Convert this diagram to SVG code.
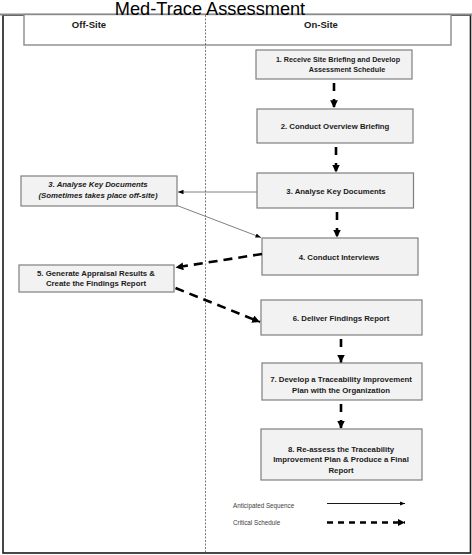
<svg xmlns="http://www.w3.org/2000/svg" width="472" height="555" viewBox="0 0 472 555">
<style>
  .box { fill: #f2f2f2; stroke: #7f7f7f; stroke-width: 1.2; }
  .t { font-family: "Liberation Sans", Arial, sans-serif; font-weight: bold; font-size: 7.8px; fill: #1a1a1a; text-anchor: middle; }
  .ti { font-style: italic; }
  .hdr { font-family: "Liberation Sans", Arial, sans-serif; font-weight: bold; font-size: 9.5px; fill: #1a1a1a; text-anchor: middle; }
  .leg { font-family: "Liberation Sans", Arial, sans-serif; font-size: 6.3px; fill: #404040; }
  .critv { fill: none; stroke: #000; stroke-width: 2.6; stroke-dasharray: 8 8; stroke-dashoffset: 12; }
  .crito { fill: none; stroke: #000; stroke-width: 2.6; stroke-dasharray: 9 6; }
  .thin { fill: none; stroke: #808080; stroke-width: 1; }
</style>
<defs>
  <marker id="ah" viewBox="0 0 10 10" refX="10" refY="5" markerWidth="3" markerHeight="3" orient="auto" markerUnits="strokeWidth">
    <path d="M0,0 L10,5 L0,10 z" fill="#000"/>
  </marker>
  <marker id="ahs" viewBox="0 0 10 10" refX="10" refY="5" markerWidth="5.5" markerHeight="5.5" orient="auto" markerUnits="strokeWidth">
    <path d="M0,1 L10,5 L0,9 z" fill="#000"/>
  </marker>
</defs>
<rect x="0" y="0" width="472" height="555" fill="#fff"/>
<g id="frame">
  <rect x="3" y="15" width="467.5" height="538" fill="none" stroke="#1a1a1a" stroke-width="1.6"/>
  <line x1="0" y1="14.5" x2="472" y2="14.5" stroke="#8a8a8a" stroke-width="2"/>
  <rect x="24" y="14.5" width="427" height="30.5" fill="#fff" stroke="#8a8a8a" stroke-width="1.4"/>
  <line x1="205.5" y1="15" x2="205.5" y2="553" stroke="#555" stroke-width="0.8" stroke-dasharray="2 1.5"/>
  <text x="210" y="14.8" font-family="'Liberation Sans', Arial, sans-serif" font-size="18.2" fill="#000" text-anchor="middle">Med-Trace Assessment</text>
  <text class="hdr" x="89" y="28">Off-Site</text>
  <text class="hdr" x="321" y="28">On-Site</text>
</g>
<g id="n1">
  <rect class="box" x="256" y="50" width="156" height="29"/>
  <text class="t" x="338" y="61.5" style="font-size:7.2px">1. Receive Site Briefing and Develop</text>
  <text class="t" x="347" y="72" style="font-size:7.2px">Assessment Schedule</text>
</g>
<g id="n2">
  <rect class="box" x="257" y="109" width="156" height="34"/>
  <text class="t" x="335" y="129">2. Conduct Overview Briefing</text>
</g>
<g id="n3">
  <rect class="box" x="257" y="173" width="156.5" height="35"/>
  <text class="t" x="336" y="194">3. Analyse Key Documents</text>
</g>
<g id="n3b">
  <rect class="box" x="21" y="176" width="156" height="30"/>
  <text class="t ti" x="98" y="187">3. Analyse Key Documents</text>
  <text class="t ti" x="98" y="197.5">(Sometimes takes place off-site)</text>
</g>
<g id="n4">
  <rect class="box" x="262" y="238" width="156" height="37"/>
  <text class="t" x="339" y="259.5">4. Conduct Interviews</text>
</g>
<g id="n5">
  <rect class="box" x="19" y="265" width="155" height="27"/>
  <text class="t" x="96" y="275.5">5. Generate Appraisal Results &amp;</text>
  <text class="t" x="96" y="286">Create the Findings Report</text>
</g>
<g id="n6">
  <rect class="box" x="261" y="300" width="161" height="35"/>
  <text class="t" x="341" y="321">6. Deliver Findings Report</text>
</g>
<g id="n7">
  <rect class="box" x="262" y="363" width="160" height="37"/>
  <text class="t" x="341" y="381.5">7. Develop a Traceability Improvement</text>
  <text class="t" x="341" y="392.5">Plan with the Organization</text>
</g>
<g id="n8">
  <rect class="box" x="261" y="429" width="161" height="51"/>
  <text class="t" x="341" y="451.5">8. Re-assess the Traceability</text>
  <text class="t" x="341" y="462">Improvement Plan &amp; Produce a Final</text>
  <text class="t" x="341" y="472.5">Report</text>
</g>
<g id="connectors">
  <path class="critv" d="M334,79 V108" marker-end="url(#ah)"/>
  <path class="critv" d="M336,143 V172.5" marker-end="url(#ah)"/>
  <path class="critv" d="M337,208 V237.5" marker-end="url(#ah)"/>
  <path class="critv" d="M341,335 V362.5" marker-end="url(#ah)"/>
  <path class="critv" d="M341,400 V428.5" marker-end="url(#ah)"/>
  <path class="thin" d="M257,192 H178" marker-end="url(#ahs)"/>
  <path class="thin" d="M177,205.5 L261,237.5" marker-end="url(#ahs)"/>
  <path class="crito" d="M262,254 L175.5,267.5" marker-end="url(#ah)"/>
  <path class="crito" d="M175.5,288 L260,322" marker-end="url(#ah)"/>
</g>
<g id="legend">
  <text class="leg" x="233" y="508">Anticipated Sequence</text>
  <text class="leg" x="233" y="525">Critical Schedule</text>
  <path d="M327,503.5 H405" fill="none" stroke="#000" stroke-width="0.9" marker-end="url(#ahs)"/>
  <path d="M327,522.5 H405" fill="none" stroke="#000" stroke-width="2.4" stroke-dasharray="6 5" marker-end="url(#ah)"/>
</g>
</svg>
